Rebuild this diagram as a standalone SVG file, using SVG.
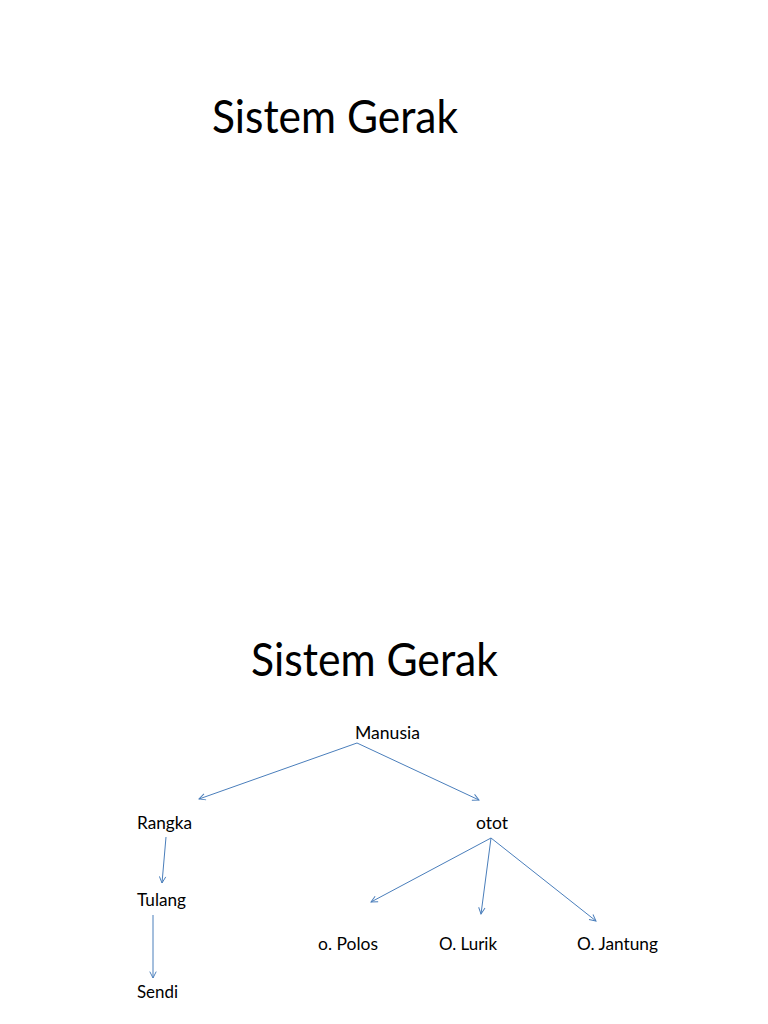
<svg xmlns="http://www.w3.org/2000/svg" width="768" height="1024" viewBox="0 0 768 1024">
<defs>
<style>
.t{font-family:Lato,"Open Sans","Liberation Sans",sans-serif;fill:#000}
.title{font-size:47px}
.lbl{font-size:17px}
.c{stroke:#4a7ebb;stroke-width:1;fill:none}
</style>
<marker id="ah" viewBox="0 0 10 10" refX="9" refY="5" markerWidth="8" markerHeight="8" orient="auto" markerUnits="userSpaceOnUse">
<path d="M1,1 L9,5 L1,9" fill="none" stroke="#4a7ebb" stroke-width="1.2"/>
</marker>
</defs>
<rect width="768" height="1024" fill="#fff"/>
<g id="title1"><text class="t title" x="212" y="133" textLength="246" lengthAdjust="spacingAndGlyphs">Sistem Gerak</text></g>
<g id="title2"><text class="t title" x="251" y="676" textLength="247" lengthAdjust="spacingAndGlyphs">Sistem Gerak</text></g>
<g id="connectors">
<line class="c" x1="357" y1="743" x2="199" y2="799" marker-end="url(#ah)"/>
<line class="c" x1="357" y1="743" x2="479" y2="800" marker-end="url(#ah)"/>
<line class="c" x1="166" y1="837" x2="162" y2="883" marker-end="url(#ah)"/>
<line class="c" x1="153" y1="915" x2="153" y2="978" marker-end="url(#ah)"/>
<line class="c" x1="491" y1="838" x2="371" y2="902" marker-end="url(#ah)"/>
<line class="c" x1="491" y1="838" x2="481" y2="914" marker-end="url(#ah)"/>
<line class="c" x1="491" y1="838" x2="596" y2="921" marker-end="url(#ah)"/>
</g>
<g id="manusia"><text class="t lbl" x="355" y="739" textLength="65" lengthAdjust="spacingAndGlyphs">Manusia</text></g>
<g id="rangka"><text class="t lbl" x="137" y="829" textLength="55" lengthAdjust="spacingAndGlyphs">Rangka</text></g>
<g id="otot"><text class="t lbl" x="476" y="829" textLength="32" lengthAdjust="spacingAndGlyphs">otot</text></g>
<g id="tulang"><text class="t lbl" x="137" y="906" textLength="49" lengthAdjust="spacingAndGlyphs">Tulang</text></g>
<g id="sendi"><text class="t lbl" x="137" y="998" textLength="41" lengthAdjust="spacingAndGlyphs">Sendi</text></g>
<g id="polos"><text class="t lbl" x="318" y="950" textLength="60" lengthAdjust="spacingAndGlyphs">o. Polos</text></g>
<g id="lurik"><text class="t lbl" x="439" y="950" textLength="58" lengthAdjust="spacingAndGlyphs">O. Lurik</text></g>
<g id="jantung"><text class="t lbl" x="577" y="950" textLength="81" lengthAdjust="spacingAndGlyphs">O. Jantung</text></g>
</svg>
